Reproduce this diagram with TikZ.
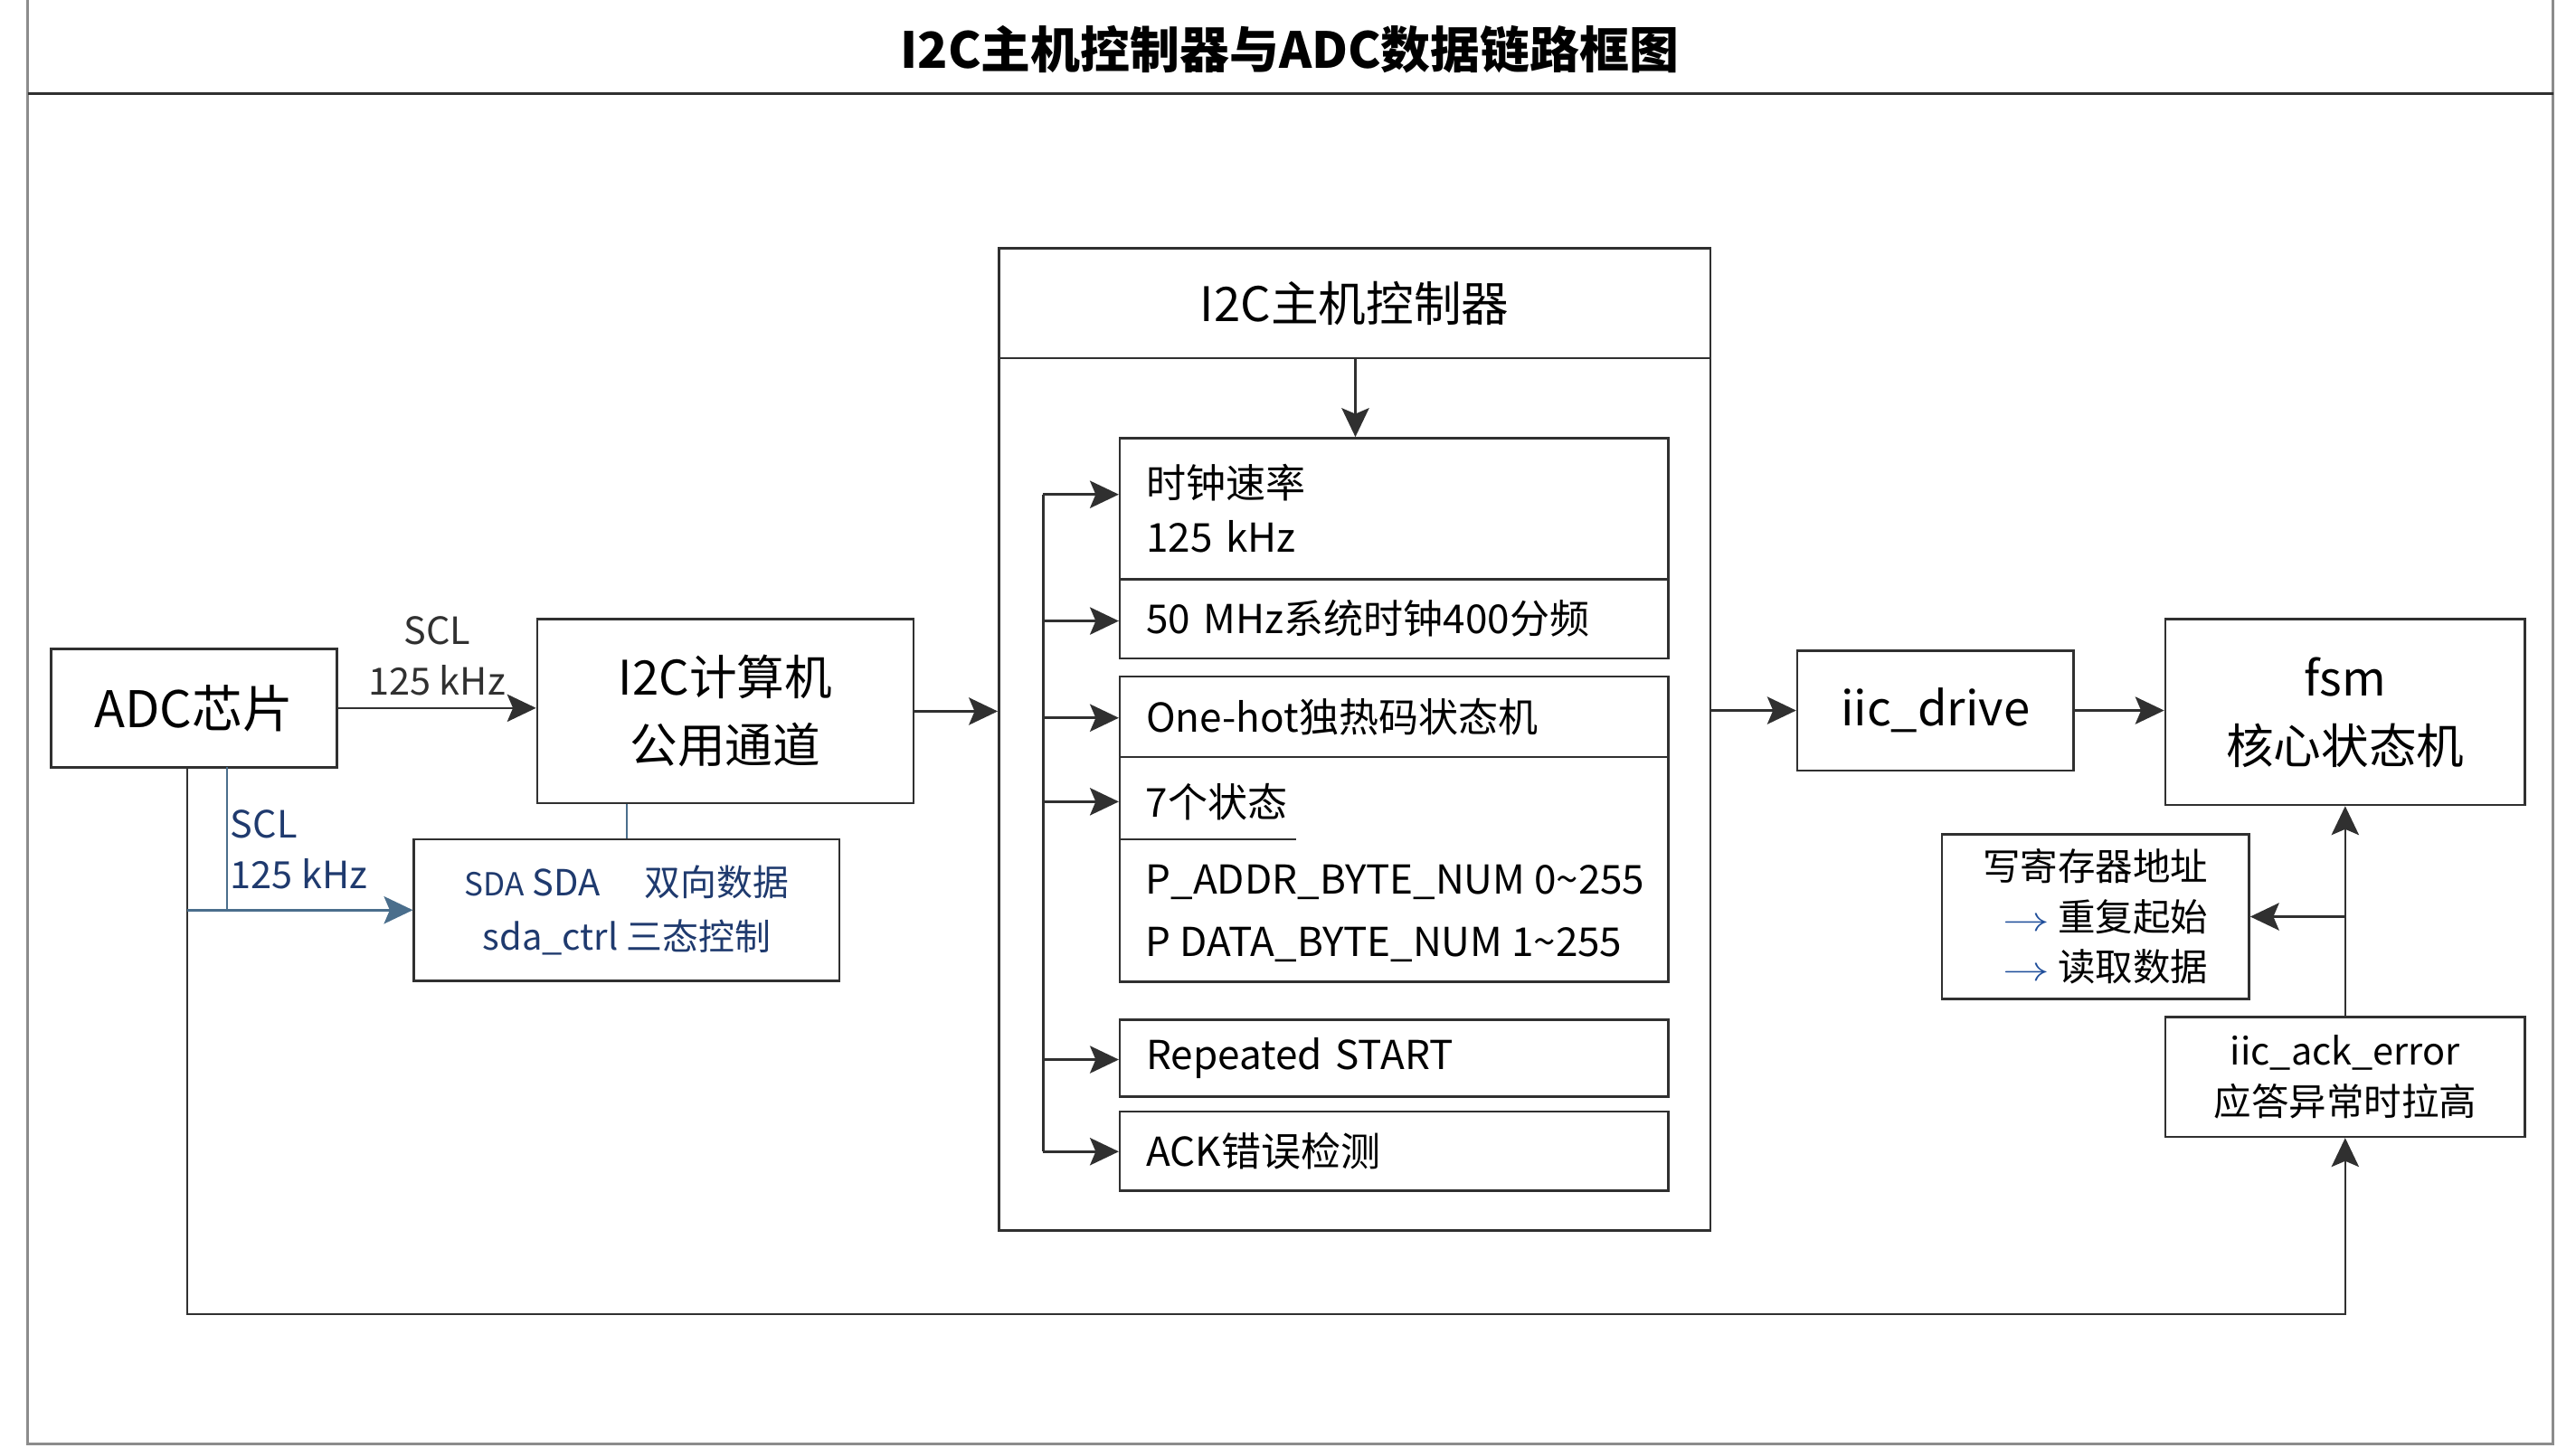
\documentclass[tikz,border=0pt]{standalone}
\usepackage{fontspec}
\setmainfont{Noto Sans CJK SC}
\usepackage{graphicx}
\usetikzlibrary{arrows.meta}

\definecolor{boxline}{HTML}{303030}
\definecolor{framegray}{HTML}{8C8C8C}
\definecolor{navy}{HTML}{1F3A6E}
\definecolor{steel}{HTML}{4A6E8C}
\definecolor{arrblue}{HTML}{1F4E9A}
\newcommand{\rowfont}{\fontsize{13.8}{18.8}\selectfont}
\newcommand{\bluearr}{{\color{arrblue}\scalebox{1.35}[1]{$\rightarrow$}}}

\begin{document}
\begin{tikzpicture}[x=0.02cm, y=-0.02cm,
        blk/.style 2 args={draw=boxline, line width=0.8pt, minimum width=#1*0.02cm, minimum height=#2*0.02cm, inner sep=0pt, align=center},
        row/.style={draw=boxline, line width=0.8pt, anchor=north west, minimum height=#1*0.02cm, text width=6.04cm, inner xsep=0.32cm, inner ysep=0pt, align=left, font=\rowfont},
        arr/.style={-{Stealth[length=10pt, width=9.5pt, inset=2pt]}, line width=0.8pt, boxline},
        big/.style={font=\fontsize{16.5}{23.5}\selectfont},
        lbl/.style={font=\fontsize{13}{17.4}\selectfont}]
        \useasboundingbox (0,0) rectangle (1568,881);

        \draw[framegray, line width=0.9pt] (17,0) -- (17,879) -- (1554,879) -- (1554,0);
        \draw[boxline, line width=0.9pt] (17,57) -- (1554,57);
        \node[font=\fontsize{17.2}{20}\selectfont\bfseries] (title) at (785,30) {I2C主机控制器与ADC数据链路框图};

        \node[blk={174}{72}, font=\fontsize{17.5}{21}\selectfont] (adc) at (118,431) {ADC芯片};
        \node[blk={229}{112}, big] (calc) at (441.5,433) {I2C计算机\\公用通道};
        \node[blk={259}{86}, text=navy, font=\fontsize{12.5}{18.8}\selectfont] (sda) at (381.5,554) {{\fontsize{11}{18.8}\selectfont SDA} SDA\quad\ 双向数据\\sda\_ctrl 三态控制};

        \node[blk={433}{598}] (ctrl) at (824.5,450) {};
        \node[big] (ctrlhd) at (824.5,184.5) {I2C主机控制器};
        \coordinate (hdsep) at (825,218);
        \draw[boxline, line width=0.8pt] (ctrl.west |- hdsep) -- (ctrl.east |- hdsep);

        \node[row=86] (clk) at (681,266) {时钟速率\\125 kHz};
        \node[row=48] (div) at (681,352) {50 MHz系统时钟400分频};
        \node[row=49] (onehot) at (681,411) {One-hot独热码状态机};
        \node[row=137] (states) at (681,460) {};
        \node[row=47] (rstart) at (681,620) {Repeated START};
        \node[row=48] (ackchk) at (681,676) {ACK错误检测};
        \node[anchor=west, inner sep=0pt, font=\rowfont] (st7) at (697,488) {7个状态};
        \node[anchor=west, inner sep=0pt, font=\rowfont] (addr) at (697,537) {P\_ADDR\_BYTE\_NUM 0\textasciitilde255};
        \node[anchor=west, inner sep=0pt, font=\rowfont] (data) at (697,575) {P DATA\_BYTE\_NUM 1\textasciitilde255};
        \draw[boxline, line width=0.8pt] (states.west |- 0,511) -- (789,511);

        \draw[arr] (hdsep) -- (hdsep |- clk.north);
        \coordinate (bustop) at (635,301);
        \coordinate (busbot) at (635,701);
        \draw[boxline, line width=0.8pt] (bustop) -- (busbot);
        \foreach \n/\y in {clk/301, div/378, onehot/437, states/488, rstart/645, ackchk/701}
            \draw[arr] (bustop |- 0,\y) -- (\n.west |- 0,\y);

        \node[blk={168}{73}, big] (drive) at (1178,432.5) {iic\_drive};
        \node[blk={219}{113}, big] (fsm) at (1427.5,433.5) {fsm\\核心状态机};
        \node[blk={187}{100}, lbl, align=right] (wreg) at (1275.5,558) {写寄存器地址\\\bluearr\ 重复起始\\\bluearr\ 读取数据};
        \node[blk={219}{73}, lbl] (ack) at (1427.5,655.5) {iic\_ack\_error\\应答异常时拉高};

        \draw[arr] (adc.east) -- (adc.east -| calc.west) node[midway, above=4pt, inner sep=0pt, lbl, align=center] (scl1) {SCL\\125 kHz};
        \draw[arr] (calc.east) -- (calc.east -| ctrl.west);
        \draw[arr] (drive.west -| ctrl.east) -- (drive.west);
        \draw[arr] (drive.east) -- (drive.east -| fsm.west);
        \draw[arr] (ack.north) -- (fsm.south);
        \draw[arr] (ack.north |- wreg.east) -- (wreg.east);

        \coordinate (loopA) at (114,467);
        \coordinate (sclA) at (138,467);
        \draw[arr] (loopA) -- ++(0,333) -| (ack.south);
        \draw[steel, line width=0.6pt] (sclA) -- (sclA |- sda.west);
        \node[anchor=west, inner sep=0pt, text=navy, lbl, align=left] (scl2) at (140,517) {SCL\\125 kHz};
        \draw[arr, steel] (loopA |- sda.west) -- (sda.west);
        \draw[steel, line width=0.6pt] (sda.north) -- (sda.north |- calc.south);
\end{tikzpicture}
\end{document}
